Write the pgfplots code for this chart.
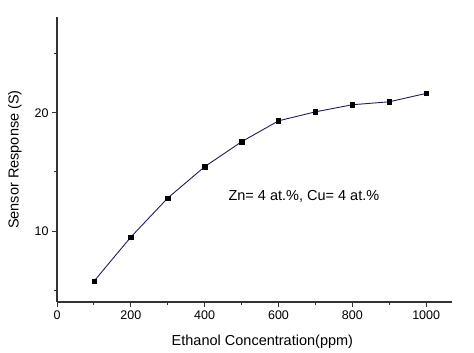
\documentclass[border=0pt]{standalone}
\usepackage{pgfplots}
\pgfplotsset{compat=1.18}
\usepackage{fontspec}
\setmainfont{Liberation Sans}
\begin{document}
\begin{tikzpicture}[x=1pt,y=1pt]
\begin{axis}[
  at={(0,0)}, anchor=south west,
  scale only axis, width=395pt, height=285pt,
  xmin=0, xmax=1070, ymin=4, ymax=28.1,
  axis x line*=bottom, axis y line*=left,
  axis line style={line width=1.1pt, black!80, -},
  xtick={0,200,400,600,800,1000},
  minor xtick={100,300,500,700,900},
  ytick={10,20}, minor ytick={5,15,25},
  tick align=outside,
  major tick length=5pt, minor tick length=3pt,
  tick style={line width=0.9pt, black!80},
  /pgf/number format/assume math mode=true,
  /pgf/number format/1000 sep={},
  ticklabel style={font=\fontsize{12.5}{14}\selectfont},
  xlabel={Ethanol Concentration(ppm)},
  ylabel={Sensor Response (S)},
  label style={font=\fontsize{14.5}{16}\selectfont},
  xlabel style={at={(axis description cs:0.52,0)}, anchor=center, yshift=-40pt},
  ylabel style={at={(axis description cs:0,0.5)}, anchor=center, yshift=42pt},
  clip=false,
]
\addplot[color={rgb,255:red,30;green,30;blue,90}, line width=0.9pt, mark=square*, mark size=2.2pt, mark options={fill=black, draw=black, line width=0.4pt}]
coordinates {(100,5.75) (200,9.49) (300,12.79) (400,15.44) (500,17.55) (600,19.32) (700,20.08) (800,20.68) (900,20.93) (1000,21.64)};
\node[anchor=west, font=\fontsize{14.5}{16}\selectfont] at (axis cs:455,12.96) {Zn= 4 at.\%, Cu= 4 at.\%};
\end{axis}
\pgfresetboundingbox
\path[use as bounding box] (-57pt,-51pt) rectangle ++(474pt,353pt);
\end{tikzpicture}
\end{document}
